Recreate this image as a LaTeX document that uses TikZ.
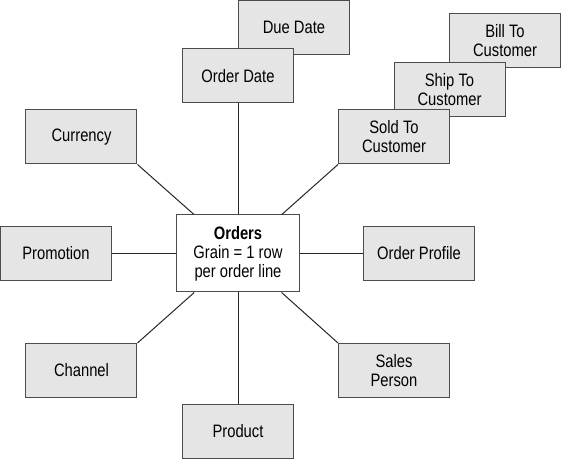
\documentclass[tikz,border=0pt]{standalone}
\usepackage{fontspec}
\setmainfont{Liberation Sans}[FakeStretch=0.82]
\usepackage{tikz}

\tikzset{
  dimbox/.style={draw=black!70, fill=gray!20, line width=1pt,
    minimum width=111pt, minimum height=54pt, align=center,
    font=\fontsize{18pt}{19pt}\selectfont},
  factbox/.style={dimbox, fill=white, minimum width=122pt, minimum height=77pt},
  link/.style={draw=black!85, line width=1pt}
}

\begin{document}
\begin{tikzpicture}
      \useasboundingbox (-238pt,253.5pt) rectangle (324pt,-206.5pt);
      \node [factbox] (orders) {\textbf{Orders}\\Grain = 1 row\\per order line};

      \node [dimbox,above of=orders,node distance=226pt,xshift=56pt] (due) {Due Date};
      \node [dimbox,below of=due,node distance=48.5pt,xshift=-56pt] (date) {Order Date};
      \node [dimbox,above of=orders,node distance=213pt,xshift=267pt] (bill) {Bill To\\Customer};
      \node [dimbox,below of=bill,node distance=49pt,xshift=-55.5pt] (ship) {Ship To\\Customer};
      \node [dimbox,below of=ship,node distance=47.5pt,xshift=-55.5pt] (sold) {Sold To\\Customer};
      \node [dimbox,above of=orders,node distance=116.5pt,xshift=-156.5pt] (currency) {Currency};
      \node [dimbox,left of=orders,node distance=182pt] (promotion) {Promotion};
      \node [dimbox,right of=orders,node distance=181pt] (profile) {Order Profile};
      \node [dimbox,below of=orders,node distance=117pt,xshift=-156.5pt] (channel) {Channel};
      \node [dimbox,below of=orders,node distance=117pt,xshift=156pt] (sales) {Sales\\Person};
      \node [dimbox,below of=orders,node distance=177.5pt] (product) {Product};

      \draw[link] (orders) -- (date);
      \draw[link] (orders) -- (sold.south west);
      \draw[link] (orders) -- (currency.south east);
      \draw[link] (orders) -- (promotion);
      \draw[link] (orders) -- (profile);
      \draw[link] (orders) -- (channel.north east);
      \draw[link] (orders) -- (sales.north west);
      \draw[link] (orders) -- (product);
    \end{tikzpicture}
\end{document}
